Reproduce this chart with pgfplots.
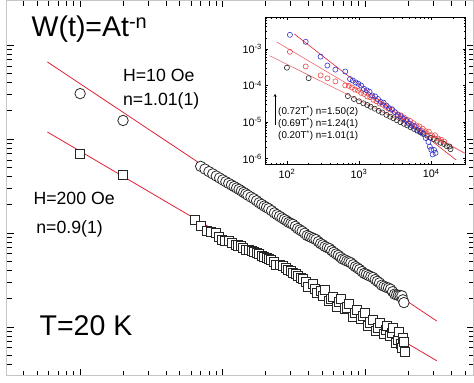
\documentclass[border=0pt]{standalone}
\usepackage{pgfplots}
\pgfplotsset{compat=1.18}
\usepackage{fontspec}
\setmainfont{Liberation Sans}
\definecolor{fitred}{rgb}{0.88,0.12,0.20}
\definecolor{fitpink}{rgb}{0.95,0.40,0.44}
\definecolor{dblue}{rgb}{0.20,0.20,0.80}
\definecolor{cred}{rgb}{0.92,0.28,0.28}

\pgfplotstableread{
t W
100 3.05e-4
200 1.58e-4
700 5.13e-5
750 4.80e-5
800 4.51e-5
850 4.27e-5
900 4.05e-5
950 3.86e-5
1000 3.68e-5
1050 3.52e-5
1100 3.38e-5
1150 3.25e-5
1200 3.13e-5
1250 3.02e-5
1300 2.92e-5
1350 2.81e-5
1400 2.71e-5
1450 2.62e-5
1500 2.53e-5
1575 2.42e-5
1650 2.32e-5
1725 2.21e-5
1800 2.10e-5
1875 2.02e-5
1950 1.94e-5
2025 1.88e-5
2100 1.82e-5
2200 1.73e-5
2300 1.64e-5
2400 1.57e-5
2500 1.51e-5
2600 1.45e-5
2700 1.40e-5
2800 1.35e-5
2900 1.30e-5
3000 1.27e-5
3100 1.24e-5
3225 1.18e-5
3350 1.12e-5
3475 1.08e-5
3600 1.045e-5
3750 9.95e-6
3900 9.42e-6
4050 9.20e-6
4200 8.94e-6
4350 8.75e-6
4500 8.53e-6
4675 8.10e-6
4850 7.73e-6
5025 7.50e-6
5200 7.21e-6
5400 7.00e-6
5600 6.84e-6
5800 6.50e-6
6000 6.24e-6
6225 6.00e-6
6450 5.80e-6
6675 5.55e-6
6900 5.30e-6
7150 5.20e-6
7400 5.05e-6
7650 4.95e-6
7900 4.83e-6
8200 4.60e-6
8500 4.39e-6
8800 4.25e-6
9100 4.10e-6
9450 3.90e-6
9800 3.72e-6
10150 3.65e-6
10500 3.54e-6
10900 3.45e-6
11300 3.37e-6
11700 3.20e-6
12100 3.07e-6
12550 2.95e-6
13000 2.79e-6
13500 2.72e-6
14000 2.65e-6
14500 2.60e-6
15000 2.53e-6
15500 2.38e-6
16000 2.24e-6
16500 2.20e-6
17000 2.18e-6
17500 2.17e-6
18000 2.15e-6
18300 1.95e-6
18600 1.82e-6
}\circdata

\pgfplotstableread{
t W
100 3.05e-4
200 1.58e-4
700 5.13e-5
850 4.27e-5
1000 3.68e-5
1150 3.25e-5
1300 2.92e-5
1450 2.62e-5
1650 2.32e-5
1875 2.02e-5
2100 1.82e-5
2400 1.57e-5
2700 1.40e-5
3000 1.27e-5
3350 1.12e-5
3750 9.95e-6
4200 8.94e-6
4675 8.10e-6
5200 7.21e-6
5800 6.50e-6
6450 5.80e-6
7150 5.20e-6
7900 4.83e-6
8800 4.25e-6
9800 3.72e-6
10900 3.45e-6
12100 3.07e-6
13500 2.72e-6
15000 2.53e-6
16500 2.20e-6
18000 2.15e-6
18600 1.82e-6
}\insetblack

\pgfplotstableread{
t W
100 6.95e-5
200 4.18e-5
640 1.37e-5
700 1.20e-5
774 1.05e-5
830 1.02e-5
893 1.00e-5
940 9.10e-6
984 8.43e-6
1040 8.30e-6
1100 8.24e-6
1165 7.85e-6
1230 7.48e-6
1280 7.40e-6
1334 7.30e-6
1390 6.90e-6
1445 6.62e-6
1515 6.55e-6
1589 6.47e-6
1655 6.30e-6
1722 6.15e-6
1795 5.95e-6
1866 5.73e-6
1945 5.60e-6
2023 5.46e-6
2105 5.30e-6
2188 5.20e-6
2280 4.90e-6
2371 4.60e-6
2510 4.55e-6
2655 4.50e-6
2760 4.30e-6
2871 4.08e-6
2990 3.95e-6
3112 3.79e-6
3240 3.65e-6
3373 3.52e-6
3510 3.37e-6
3651 3.22e-6
3800 3.05e-6
3956 2.67e-6
4284 2.86e-6
4420 2.55e-6
4568 2.30e-6
4870 2.43e-6
5030 2.15e-6
5192 2.47e-6
5536 1.89e-6
5700 2.00e-6
5901 2.10e-6
6290 1.65e-6
6480 1.85e-6
6706 2.01e-6
7149 1.58e-6
7380 1.62e-6
7620 1.75e-6
8124 1.28e-6
8390 1.42e-6
8660 1.53e-6
9232 1.23e-6
9530 1.30e-6
9842 1.43e-6
10490 1.04e-6
10800 1.12e-6
11190 1.19e-6
11920 9.12e-7
12300 9.90e-7
12710 1.11e-6
13550 8.51e-7
13900 9.30e-7
14220 1.03e-6
14920 8.00e-7
15300 8.60e-7
15650 9.89e-7
16420 6.85e-7
16800 7.30e-7
17220 8.87e-7
17600 6.60e-7
18070 6.01e-7
18360 7.64e-7
18700 6.90e-7
18960 5.50e-7
}\sqdata

\pgfplotstableread{
t W
110 2.4e-3
182 1.55e-3
293 6.1e-4
364 3.5e-4
470 2.7e-4
643 2.4e-4
750 1.49e-4
820 1.36e-4
900 1.21e-4
980 1.11e-4
1070 9.91e-5
1170 8.07e-5
1280 7.36e-5
1400 6.72e-5
1530 5.35e-5
1670 5.02e-5
1830 4.26e-5
2000 3.55e-5
2190 3.39e-5
2400 2.81e-5
2620 2.40e-5
2870 2.24e-5
3140 1.87e-5
3430 1.56e-5
3750 1.45e-5
4100 1.24e-5
4490 1.13e-5
4910 8.99e-6
5370 8.20e-6
5870 7.67e-6
6420 6.10e-6
7020 5.70e-6
7680 4.75e-6
8400 3.69e-6
9180 2.87e-6
9600 2.13e-6
10040 1.77e-6
10500 1.31e-6
11000 1.73e-6
11500 1.44e-6
}\bluedata

\pgfplotstableread{
t W
110 8.3e-4
182 3.3e-4
293 1.88e-4
364 1.56e-4
470 1.29e-4
643 1.0e-4
720 9.73e-5
800 8.80e-5
880 7.69e-5
970 7.18e-5
1070 6.26e-5
1180 5.85e-5
1300 4.98e-5
1430 4.78e-5
1580 4.06e-5
1740 3.71e-5
1920 3.23e-5
2120 3.01e-5
2340 2.62e-5
2580 2.29e-5
2850 2.13e-5
3140 1.86e-5
3470 1.62e-5
3830 1.51e-5
4220 1.32e-5
4660 1.15e-5
5140 1.07e-5
5670 9.32e-6
6260 8.11e-6
6910 7.56e-6
7620 6.59e-6
8410 5.61e-6
9280 5.48e-6
10240 4.35e-6
11300 4.36e-6
12470 3.54e-6
13760 3.30e-6
15190 2.94e-6
}\reddata

\begin{document}
\begin{tikzpicture}
\begin{axis}[
  at={(0,0)}, anchor=south west,
  scale only axis, width=473bp, height=380bp,
  xmode=log, ymode=log,
  xmin=30.6, xmax=5.71e4, ymin=3.05e-7, ymax=2.98e-3,
  xticklabels={}, yticklabels={},
  axis line style={gray!45, line width=1.2bp},
  major tick length=7bp, minor tick length=5bp,
  every tick/.style={black, line width=0.9bp},
  clip=true,
]
\addplot[only marks, mark=*, mark size=5.3bp, mark options={fill=white, draw=black!85, line width=0.8bp}] table[x=t,y=W] {\circdata};
\addplot[only marks, mark=square*, mark size=4.6bp, mark options={fill=white, draw=black!85, line width=0.8bp}] table[x=t,y=W] {\sqdata};
\addplot[fitred, line width=0.8bp] coordinates {(59,6.62e-4) (3.16e4,1.16e-6)};
\addplot[fitred, line width=0.8bp] coordinates {(59,1.19e-4) (3.16e4,4.38e-7)};

\node[anchor=base west, inner sep=0pt, font=\fontsize{29}{32}\selectfont] at (rel axis cs:0.053,0.903) {W(t)=At\textsuperscript{-n}};
\node[anchor=base west, inner sep=0pt, font=\fontsize{18}{20}\selectfont] at (rel axis cs:0.249,0.785) {H=10 Oe};
\node[anchor=base west, inner sep=0pt, font=\fontsize{18}{20}\selectfont] at (rel axis cs:0.249,0.719) {n=1.01(1)};
\node[anchor=base west, inner sep=0pt, font=\fontsize{18}{20}\selectfont] at (rel axis cs:0.057,0.457) {H=200 Oe};
\node[anchor=base west, inner sep=0pt, font=\fontsize{18}{20}\selectfont] at (rel axis cs:0.063,0.379) {n=0.9(1)};
\node[anchor=base west, inner sep=0pt, font=\fontsize{29}{32}\selectfont] at (rel axis cs:0.070,0.106) {T=20 K};
\end{axis}

\begin{axis}[
  at={(262bp,214bp)}, anchor=south west,
  scale only axis, width=203bp, height=149bp,
  xmode=log, ymode=log,
  xmin=50, xmax=3e4, ymin=7e-7, ymax=7.2e-3,
  axis background/.style={fill=white},
  xtick={100,1000,10000},
  xticklabels={10\textsuperscript{2},10\textsuperscript{3},10\textsuperscript{4}},
  minor xtick={60,70,80,90,200,300,400,500,600,700,800,900,2000,3000,4000,5000,6000,7000,8000,9000,20000,30000},
  ytick={1e-6,1e-5,1e-4,1e-3},
  yticklabels={10\textsuperscript{-6},10\textsuperscript{-5},10\textsuperscript{-4},10\textsuperscript{-3}},
  minor ytick={8e-7,9e-7,2e-6,3e-6,4e-6,5e-6,6e-6,7e-6,8e-6,9e-6,2e-5,3e-5,4e-5,5e-5,6e-5,7e-5,8e-5,9e-5,2e-4,3e-4,4e-4,5e-4,6e-4,7e-4,8e-4,9e-4,2e-3,3e-3,4e-3,5e-3,6e-3,7e-3},
  tick label style={font=\fontsize{11}{12}\selectfont},
  xticklabel style={yshift=-1bp},
  major tick length=3bp, minor tick length=1.6bp,
  every tick/.style={black, line width=0.5bp},
  axis line style={black, line width=0.6bp},
  clip=true,
]
\addplot[only marks, mark=o, mark size=2.6bp, mark options={draw=black!85, line width=0.6bp}] table[x=t,y=W] {\insetblack};
\addplot[only marks, mark=o, mark size=2.6bp, mark options={draw=cred, line width=0.6bp}] table[x=t,y=W] {\reddata};
\addplot[only marks, mark=o, mark size=2.6bp, mark options={draw=dblue, line width=0.6bp}] table[x=t,y=W] {\bluedata};
\addplot[fitred, line width=0.6bp] coordinates {(127,2.53e-3) (2.23e4,9.2e-7)};
\addplot[fitpink, line width=0.6bp] coordinates {(72,1.54e-3) (2.9e4,1.4e-6)};
\addplot[fitpink, line width=0.6bp] coordinates {(57.4,6.5e-4) (3.0e4,1.4e-6)};

\draw[->, >=stealth, line width=0.4bp] (rel axis cs:0.049,0.268) -- (rel axis cs:0.049,0.48);
\node[anchor=west, inner sep=0pt, font=\fontsize{10}{11}\selectfont] at (rel axis cs:0.064,0.362) {(0.72T\textsuperscript{*}) n=1.50(2)};
\node[anchor=west, inner sep=0pt, font=\fontsize{10}{11}\selectfont] at (rel axis cs:0.064,0.279) {(0.69T\textsuperscript{*}) n=1.24(1)};
\node[anchor=west, inner sep=0pt, font=\fontsize{10}{11}\selectfont] at (rel axis cs:0.064,0.195) {(0.20T\textsuperscript{*}) n=1.01(1)};
\node[rotate=90, font=\fontsize{16}{18}\selectfont] at (rel axis cs:-0.18,0.44) {W(t)};
\node[font=\fontsize{16}{18}\selectfont] at (rel axis cs:0.5,-0.23) {t (s)};
\end{axis}
\end{tikzpicture}
\end{document}
